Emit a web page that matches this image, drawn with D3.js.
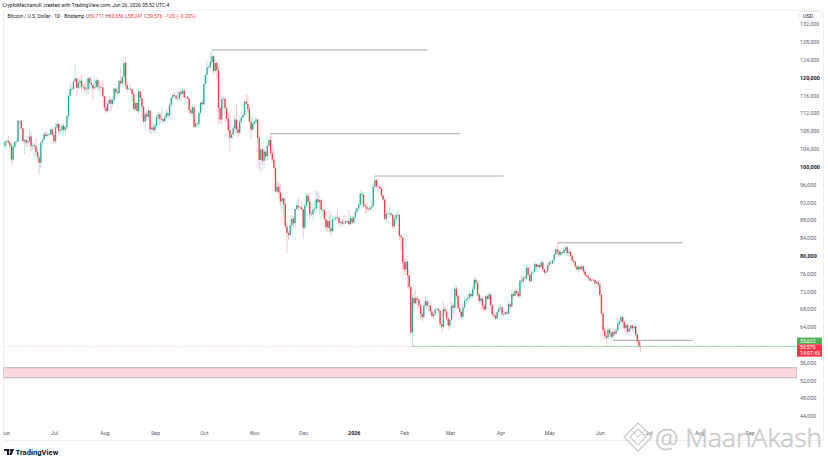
<!DOCTYPE html>
<html><head><meta charset="utf-8">
<script src="https://cdn.jsdelivr.net/npm/d3@7"></script>
<style>
html,body{margin:0;padding:0;background:#fff;}
svg{display:block;font-family:Roboto,"Liberation Sans",Arial,sans-serif;}
</style></head><body>
<svg id="c" width="828" height="462"></svg>
<script>
// ---------------- DATA (prices in thousands USD, daily, from 2025-06-01) ----------------
const startDay = "2025-06-01";
const firstOpen = 104.6;
const lastOpen = 59.711;
const closes = [
// Jun 2025
105.6,105.8,105.4,104.7,101.6,104.4,105.6,105.7,110.3,110.3,
108.6,105.7,106.0,105.4,105.6,106.8,104.6,104.8,104.6,103.3,
102.1,100.9,105.4,106.0,107.3,106.9,107.1,107.3,108.4,107.1,
// Jul
105.7,108.9,109.6,108.0,108.2,109.2,108.3,108.9,111.3,115.9,
117.5,117.4,119.1,119.8,117.7,118.8,119.3,118.0,117.9,117.3,
117.4,119.9,118.8,118.4,117.6,117.9,119.4,118.0,117.8,117.8,115.8,
// Aug
113.3,112.5,114.2,115.0,114.1,115.0,117.5,116.7,116.5,119.3,
118.7,120.2,123.3,118.3,117.4,117.5,117.4,116.3,112.9,114.3,
112.5,116.9,115.4,113.5,110.1,111.8,111.2,112.6,108.4,108.8,108.2,
// Sep
109.2,111.2,111.7,110.7,110.7,110.2,111.1,112.0,111.5,113.9,
115.5,116.1,115.9,115.3,115.3,116.8,116.4,117.1,115.6,115.7,
115.3,112.7,112.0,113.3,109.0,109.7,109.6,112.1,114.4,114.0,
// Oct
118.6,120.6,122.3,122.4,123.5,124.8,121.5,123.3,121.7,113.2,
110.6,115.2,115.3,113.1,110.8,108.2,106.5,107.2,108.6,110.6,
108.4,107.6,110.1,111.0,111.6,114.6,114.1,112.9,110.1,108.3,109.6,
// Nov
110.1,110.6,106.5,101.5,103.9,101.3,103.4,102.3,104.7,106.0,
103.0,101.6,99.7,94.4,95.5,94.2,92.2,92.9,91.5,86.6,
85.1,84.6,86.8,88.3,87.3,90.5,91.3,90.9,90.8,90.4,
// Dec
86.3,91.3,93.5,92.1,89.4,89.3,90.4,90.6,92.7,92.0,
92.5,90.3,90.3,88.2,86.4,87.8,86.2,85.5,88.1,88.3,
88.6,88.5,87.4,87.6,87.2,87.3,87.8,87.8,87.1,88.4,87.5,
// Jan 2026
88.7,89.9,90.6,91.5,93.9,93.7,91.3,91.0,90.5,90.4,
90.8,91.1,95.5,97.0,95.6,95.5,95.1,93.6,92.6,88.3,
89.4,89.5,89.5,89.2,86.6,88.2,89.2,89.2,84.5,84.1,78.6,
// Feb
76.9,78.7,75.6,73.0,62.8,70.5,69.3,70.5,70.1,68.8,
67.0,66.2,68.8,69.8,68.8,68.8,67.5,66.4,66.9,67.9,
68.0,67.6,64.6,64.0,68.0,67.5,65.9,64.3,
// Mar
65.6,68.8,68.3,72.6,70.9,68.2,67.4,66.3,68.4,69.9,
70.2,70.6,71.4,70.9,72.6,74.6,73.9,71.3,69.8,70.4,
68.8,67.9,70.9,70.3,71.3,68.9,66.8,66.5,65.9,67.4,68.2,
// Apr
68.4,66.9,66.9,67.3,67.0,69.1,68.6,71.4,71.0,72.1,
71.6,70.9,74.4,74.2,75.1,74.9,77.3,75.7,74.3,76.2,
76.4,78.1,77.5,77.9,77.4,78.5,76.9,76.2,76.5,77.9,
// May
78.5,78.3,78.9,80.3,81.4,81.0,80.2,80.8,80.6,81.3,
81.9,80.6,80.9,80.0,78.9,78.6,77.6,76.9,77.5,77.0,
77.6,76.5,75.6,75.3,75.0,74.4,74.6,74.5,73.8,74.1,73.5,
// Jun 2026
71.2,67.0,63.2,62.0,61.6,63.4,62.6,61.8,62.9,62.5,
63.3,64.7,65.3,66.2,65.1,63.8,64.5,62.9,63.6,64.3,
63.7,64.1,62.3,60.8,59.696,59.576
];
const highs = [
// Jun 2025
105.9,105.9,106.8,106.0,105.0,105.4,105.9,106.3,110.5,110.4,
110.4,108.5,106.2,106.2,106.0,108.9,107.7,105.5,105.2,106.5,
104.0,103.1,106.0,106.3,108.0,108.2,107.8,107.6,108.5,108.8,
// Jul
107.5,109.8,110.6,109.8,108.4,109.7,109.7,109.2,111.9,116.8,
118.9,118.2,119.5,123.2,119.9,120.0,120.2,120.9,118.6,118.9,
119.7,120.2,120.0,119.5,118.4,118.3,119.8,119.8,119.2,118.8,118.9,
// Aug
116.0,114.0,114.7,115.8,115.5,115.7,117.6,117.7,117.9,119.3,
122.3,120.3,123.7,124.5,119.2,117.9,118.6,117.6,116.8,114.6,
114.5,117.4,117.0,115.7,113.7,112.4,112.6,113.3,112.6,108.9,109.5,
// Sep
109.9,111.7,112.6,112.2,113.4,111.0,111.6,112.9,113.2,114.3,
115.5,116.3,116.7,116.1,116.8,117.0,117.3,117.9,117.4,116.2,
115.9,115.4,113.3,114.0,113.5,110.0,109.8,112.4,114.5,114.8,
// Oct
118.7,121.0,123.9,122.9,125.7,126.2,125.1,124.2,123.8,122.5,
113.4,115.9,116.0,115.0,113.6,111.8,109.0,107.5,109.4,111.7,
114.0,109.1,111.0,112.0,111.9,115.0,116.4,116.1,113.6,111.6,111.2,
// Nov
110.6,111.2,110.8,107.0,104.6,104.2,104.0,103.4,105.0,106.6,
107.5,105.3,104.0,99.9,96.8,96.6,96.0,93.8,93.0,93.1,
87.5,85.6,88.1,89.1,88.7,90.6,91.9,93.0,91.2,92.0,
// Dec
90.4,92.3,94.1,94.0,92.6,90.2,91.8,92.3,94.6,94.5,
93.5,92.8,90.6,90.5,90.0,88.1,90.3,89.4,89.0,88.6,
89.1,90.6,88.9,87.9,88.0,89.5,88.0,88.0,90.3,89.2,89.0,
// Jan 2026
88.9,90.9,90.8,91.8,94.8,94.4,93.6,91.6,91.9,90.8,
91.5,92.5,96.3,97.9,97.3,95.8,95.6,95.5,93.4,92.9,
90.4,90.3,91.1,89.7,89.2,88.9,89.4,90.5,89.3,84.8,84.2,
// Feb
79.4,79.3,79.0,76.8,73.1,71.3,71.7,72.2,71.0,70.5,
69.3,68.3,69.4,70.9,70.6,69.9,69.0,68.2,67.4,68.4,
68.6,68.3,67.8,65.0,69.9,68.8,68.1,66.2,
// Mar
66.0,69.5,69.3,73.9,73.2,71.3,68.6,67.8,69.2,70.8,
71.1,71.3,72.4,71.9,73.1,75.2,75.0,74.3,71.6,71.2,
70.6,69.2,71.5,71.4,71.8,71.5,69.2,67.3,67.0,67.9,68.8,
// Apr
69.3,68.6,67.4,67.6,67.8,69.7,69.6,72.2,71.9,72.5,
72.6,72.0,74.9,75.4,75.6,75.6,77.9,77.4,76.0,76.6,
77.0,78.6,78.4,78.3,78.0,79.1,78.6,77.3,77.5,78.4,
// May
79.0,78.9,79.3,80.7,82.0,82.9,81.5,81.2,81.0,81.7,
82.3,82.2,81.5,81.4,80.3,79.2,78.9,78.0,77.9,77.8,
78.1,77.9,76.9,75.9,75.6,75.3,75.1,74.9,74.8,74.4,74.3,
// Jun 2026
73.8,71.5,67.4,64.1,63.0,63.9,63.8,63.0,63.4,63.5,
63.8,65.2,66.0,66.7,66.5,65.4,65.0,64.8,64.2,64.6,
64.5,64.4,64.2,62.6,61.2,60.656
];
const lows = [
// Jun 2025
103.9,103.7,105.0,104.2,100.4,101.1,103.9,105.1,105.4,108.3,
108.3,105.7,102.8,104.3,104.5,105.6,103.4,103.6,103.9,102.4,
101.0,98.2,99.6,104.6,105.9,106.6,106.4,106.9,107.2,106.8,
// Jul
105.3,105.2,108.3,107.3,107.5,107.8,107.5,107.5,108.3,110.6,
115.2,116.9,117.2,118.9,115.7,117.3,117.4,116.8,117.3,116.5,
116.5,116.1,117.3,117.1,114.7,117.2,117.9,117.4,116.9,115.8,115.5,
// Aug
112.7,112.0,112.2,114.0,112.6,113.4,114.3,115.9,116.3,116.5,
118.1,118.2,118.9,117.2,116.8,117.2,117.2,114.7,112.7,112.4,
112.4,111.7,114.6,110.8,109.7,108.7,110.4,110.9,107.5,107.4,108.1,
// Sep
107.3,108.8,110.6,109.3,110.0,110.0,110.0,110.6,110.9,110.9,
113.4,114.2,115.7,114.8,114.4,114.8,114.7,116.2,115.2,115.5,
115.2,111.9,111.5,111.1,108.7,108.6,109.1,109.2,111.6,112.7,
// Oct
113.9,118.4,119.4,121.6,122.0,123.1,120.6,121.1,119.7,109.5,
109.7,109.7,113.0,110.1,110.2,107.5,103.5,106.3,106.1,107.5,
107.5,106.7,107.5,109.7,110.9,111.3,113.8,112.2,109.8,106.3,108.6,
// Nov
109.4,109.5,105.3,99.3,98.9,100.3,99.3,101.4,101.3,104.3,
102.5,100.8,98.0,94.0,94.5,93.0,91.2,89.3,88.5,86.1,
80.6,83.5,84.6,85.3,86.2,86.3,90.1,90.2,90.3,90.3,
// Dec
83.8,85.7,91.0,91.0,88.1,88.9,87.8,89.6,89.6,91.6,
89.3,89.6,89.8,87.6,85.2,85.3,85.4,84.4,85.1,87.9,
87.6,87.9,86.6,86.4,86.8,86.6,87.2,87.2,86.8,86.8,87.1,
// Jan 2026
87.2,88.3,89.3,90.2,91.2,91.8,90.7,89.3,89.6,90.1,
90.2,90.0,90.9,94.6,95.0,94.3,94.9,93.1,91.9,87.9,
87.3,88.5,88.5,88.9,86.1,86.1,87.3,88.8,83.5,81.1,77.0,
// Feb
75.7,74.6,72.9,72.2,62.5,59.632,67.5,68.9,68.2,68.3,
65.8,65.2,65.9,68.6,68.2,67.4,66.6,65.9,65.7,66.3,
67.6,67.1,64.1,62.9,63.9,66.5,65.4,63.4,
// Mar
63.8,65.3,66.4,67.9,70.2,67.8,67.0,65.6,65.9,68.0,
69.1,69.4,70.0,70.4,70.6,72.3,73.2,70.8,69.1,69.3,
68.3,67.5,67.6,69.9,69.9,68.5,66.1,66.0,65.4,65.6,66.9,
// Apr
67.7,66.3,66.5,66.6,66.7,66.8,67.9,68.4,70.4,70.8,
71.2,70.5,70.6,73.6,73.7,74.3,74.6,75.3,73.8,73.9,
75.7,76.1,76.8,77.1,77.0,77.3,76.3,75.7,75.5,76.2,
// May
77.6,77.9,78.1,78.6,80.1,80.4,79.7,79.9,80.2,80.4,
80.9,80.0,79.9,79.5,78.6,78.2,77.1,76.4,76.3,76.5,
76.6,75.9,75.1,75.0,74.5,73.9,74.1,74.0,73.4,73.5,72.9,
// Jun 2026
70.6,66.5,62.6,61.2,59.5,61.2,61.9,61.3,61.6,62.0,
62.2,63.0,64.3,64.9,64.6,63.2,62.6,62.3,62.5,63.2,
63.1,62.8,61.9,60.3,59.2,58.241
];
const priceTicks = [44000,48000,52000,56000,64000,68000,72000,76000,80000,84000,88000,92000,96000,100000,104000,108000,112000,116000,120000,124000,128000,132000];
const boldTicks = [80000,100000,120000];
const levelStarts = ["2025-10-06","2025-11-11","2026-01-14","2026-05-06","2026-06-09"];
const levelEnds   = ["2026-02-15","2026-03-07","2026-04-03","2026-07-22","2026-07-28"];
const levelValues = [126.2,107.4,97.9,82.9,61.0];
const supportStart = "2026-02-06";
const supportValue = 59.632;
const zoneLow = 52.58, zoneHigh = 54.83;
const lastPrice = 59.576;
const countdown = "14:07:45";
const headerText = "CryptoMechanicK created with TradingView.com, Jun 26, 2026 05:52 UTC-4";
const legendTitle = "Bitcoin / U.S. Dollar · 1D · Bitstamp";
const legendOHLC = [["O","59,711"],["H","60,656"],["L","58,241"],["C","59,576"]];
const legendChange = "−120 (−0.20%)";

// ---------------- SETUP ----------------
const svg = d3.select("#c");
const W = 828, H = 462;
const paneL = 3.5, paneR = 797, paneT = 10.5, paneB = 428;
const UP = "#22ab94", DOWN = "#f23645";
const parse = d3.utcParse("%Y-%m-%d");
const t0 = parse(startDay);

const x = d3.scaleUtc().domain([t0, parse("2026-09-30")]).range([5, 797]);
const y = d3.scaleLinear().domain([44000, 128000]).range([416, 42]);

svg.append("rect").attr("width", W).attr("height", H).attr("fill", "#fff");

// frame
svg.append("rect").attr("x", 3.5).attr("y", 10.5).attr("width", 820).attr("height", 430)
  .attr("rx", 2).attr("fill", "none").attr("stroke", "#e6e8ee").attr("stroke-width", 0.7);

// header
svg.append("text").attr("x", 2.5).attr("y", 7.4).attr("font-size", 5.0).attr("fill", "#131722").text(headerText);

const defs = svg.append("defs");
defs.append("clipPath").attr("id", "pane").append("rect")
  .attr("x", paneL).attr("y", paneT).attr("width", paneR - paneL).attr("height", paneB - paneT);
defs.append("clipPath").attr("id", "taxis").append("rect")
  .attr("x", paneL).attr("y", 0).attr("width", 820).attr("height", 12);

const pane = svg.append("g").attr("clip-path", "url(#pane)");

// zone
pane.append("rect").attr("x", paneL).attr("width", paneR - paneL)
  .attr("y", y(zoneHigh * 1000)).attr("height", y(zoneLow * 1000) - y(zoneHigh * 1000))
  .attr("fill", "#fdd9dd").attr("stroke", "#a3a3a3").attr("stroke-width", 0.8);

// candles
const data = closes.map((c, i) => ({
  date: d3.utcDay.offset(t0, i),
  o: i === 0 ? firstOpen : (i === closes.length - 1 ? lastOpen : closes[i - 1]),
  h: highs[i], l: lows[i], c
}));
const cg = pane.append("g");
cg.selectAll("line.w").data(data).join("line").attr("class", "w")
  .attr("x1", d => x(d.date)).attr("x2", d => x(d.date))
  .attr("y1", d => y(Math.max(d.h, d.o, d.c) * 1000)).attr("y2", d => y(Math.min(d.l, d.o, d.c) * 1000))
  .attr("stroke", d => d.c >= d.o ? UP : DOWN).attr("stroke-width", 0.7).attr("stroke-opacity", 0.4);
cg.selectAll("rect.b").data(data).join("rect").attr("class", "b")
  .attr("x", d => x(d.date) - 0.65).attr("width", 1.3)
  .attr("y", d => y(Math.max(d.o, d.c) * 1000))
  .attr("height", d => Math.max(0.6, Math.abs(y(d.o * 1000) - y(d.c * 1000))))
  .attr("fill", d => d.c >= d.o ? UP : DOWN);

// level lines
levelValues.forEach((v, i) => {
  pane.append("line")
    .attr("x1", x(parse(levelStarts[i]))).attr("x2", x(parse(levelEnds[i])))
    .attr("y1", y(v * 1000)).attr("y2", y(v * 1000))
    .attr("stroke", "#8a8a8a").attr("stroke-width", 0.8);
});
// current price dotted line
pane.append("line").attr("x1", paneL).attr("x2", paneR)
  .attr("y1", y(lastPrice * 1000)).attr("y2", y(lastPrice * 1000))
  .attr("stroke", DOWN).attr("stroke-width", 0.6).attr("stroke-dasharray", "1,1.2").attr("stroke-opacity", 0.45);
// support ray
pane.append("line").attr("x1", x(parse(supportStart))).attr("x2", paneR)
  .attr("y1", y(supportValue * 1000)).attr("y2", y(supportValue * 1000))
  .attr("stroke", "#8fd19e").attr("stroke-width", 0.8);

// price axis
const fmt = d3.format(",");
const ya = svg.append("g").attr("transform", `translate(${paneR},0)`)
  .call(d3.axisRight(y).tickValues(priceTicks).tickSize(0).tickPadding(3).tickFormat(fmt));
ya.select(".domain").remove();
ya.selectAll("text").attr("font-size", 5.4).attr("font-family", "Roboto, Liberation Sans, Arial")
  .attr("fill", d => boldTicks.includes(d) ? "#131722" : "#5d606b")
  .attr("font-weight", d => boldTicks.includes(d) ? "bold" : "normal");

// USD box
svg.append("rect").attr("x", 799).attr("y", 11.5).attr("width", 22).attr("height", 9).attr("rx", 1.5)
  .attr("fill", "#fff").attr("stroke", "#e0e3eb").attr("stroke-width", 0.6);
svg.append("text").attr("x", 803).attr("y", 18).attr("font-size", 5.4).attr("fill", "#131722").text("USD");

// price labels
const ySup = y(supportValue * 1000), yLast = y(lastPrice * 1000);
svg.append("rect").attr("x", paneR).attr("y", ySup - 8.8).attr("width", 25).attr("height", 6.6).attr("fill", "#4caf50");
svg.append("text").attr("x", paneR + 3).attr("y", ySup - 3.6).attr("font-size", 5.2).attr("fill", "#fff").text(fmt(Math.round(supportValue * 1000)));
svg.append("rect").attr("x", paneR).attr("y", yLast - 2.4).attr("width", 25).attr("height", 12.4).attr("fill", DOWN);
svg.append("text").attr("x", paneR + 3).attr("y", yLast + 2.8).attr("font-size", 5.2).attr("fill", "#fff").text(fmt(Math.round(lastPrice * 1000)));
svg.append("text").attr("x", paneR + 3).attr("y", yLast + 8.2).attr("font-size", 5.2).attr("fill", "#fff").text(countdown);

// time axis
const months = d3.utcMonths(t0, parse("2026-09-02"));
const xa = svg.append("g").attr("transform", `translate(0,${paneB})`).attr("clip-path", "url(#taxis)")
  .call(d3.axisBottom(x).tickValues(months).tickSize(0).tickPadding(3)
    .tickFormat(d => d.getUTCMonth() === 0 ? String(d.getUTCFullYear()) : d3.utcFormat("%b")(d)));
xa.select(".domain").remove();
xa.selectAll("text").attr("font-size", 5.4).attr("font-family", "Roboto, Liberation Sans, Arial")
  .attr("fill", d => d.getUTCMonth() === 0 ? "#131722" : "#5d606b")
  .attr("font-weight", d => d.getUTCMonth() === 0 ? "bold" : "normal");

// legend
const lg = svg.append("text").attr("x", 7.5).attr("y", 18).attr("font-size", 5.0).attr("fill", "#131722");
lg.append("tspan").text(legendTitle + "  ");
legendOHLC.forEach(([k, v]) => {
  lg.append("tspan").attr("fill", "#5d606b").text(k);
  lg.append("tspan").attr("fill", DOWN).text(v + " ");
});
lg.append("tspan").attr("fill", DOWN).text(legendChange);

// watermark
const wm = svg.append("g").attr("opacity", 0.85);
wm.append("path").attr("d", "M638,423 L652,437 L638,451 L624,437 Z").attr("fill", "none").attr("stroke", "#c4c4c4").attr("stroke-width", 1.3);
wm.append("path").attr("d", "M638,429 L646,437 L638,445 L630,437 Z").attr("fill", "none").attr("stroke", "#c4c4c4").attr("stroke-width", 1.1);
wm.append("path").attr("d", "M631,430 L638,437 M645,430 L638,437").attr("stroke", "#c4c4c4").attr("stroke-width", 1);
wm.append("text").attr("x", 655).attr("y", 447).attr("font-size", 25)
  .attr("font-family", "'Open Sans', Roboto, sans-serif").attr("font-weight", 300)
  .attr("textLength", 167).attr("lengthAdjust", "spacingAndGlyphs")
  .attr("fill", "#d2d2d2").attr("stroke", "#b5b5b5").attr("stroke-width", 0.5).text("@ MaanAkash");

// TradingView logo
const tv = svg.append("g").attr("fill", "#131722");
tv.append("path").attr("d", "M4,449 H9 V455 H7 V451 H4 Z");
tv.append("circle").attr("cx", 10.3).attr("cy", 450).attr("r", 1);
tv.append("path").attr("d", "M11.5,449 H14 L11.6,455 H9.2 Z");
svg.append("text").attr("x", 15.5).attr("y", 455).attr("font-size", 7.6).attr("font-weight", "bold")
  .attr("fill", "#131722").text("TradingView");
</script>
</body></html>
